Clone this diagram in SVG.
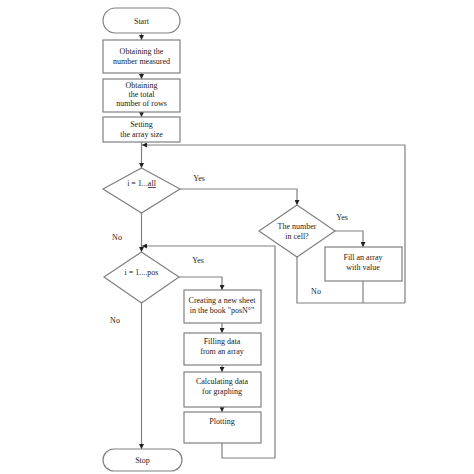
<svg xmlns="http://www.w3.org/2000/svg" width="474" height="474" viewBox="0 0 474 474">
<defs>
<marker id="ah" viewBox="0 0 6 6" refX="6" refY="3" markerWidth="5" markerHeight="5" orient="auto" markerUnits="userSpaceOnUse">
<path d="M0,0 L6,3 L0,6 Z" fill="#222"/>
</marker>
</defs>
<style>
.n{fill:#fff;stroke:#808080;stroke-width:1.2}
.c{fill:none;stroke:#808080;stroke-width:1.2}
text{font-family:"Liberation Serif","Times New Roman",serif;font-size:8px;fill:#222;text-anchor:middle}
.l{text-anchor:start}
</style>
<rect width="474" height="474" fill="#fff"/>
<g id="connectors">
<path class="c" d="M141.5,33 V40" marker-end="url(#ah)"/>
<path class="c" d="M141.5,73 V79" marker-end="url(#ah)"/>
<path class="c" d="M141.5,112 V117" marker-end="url(#ah)"/>
<path class="c" d="M141.5,142 V168" marker-end="url(#ah)"/>
<path class="c" d="M180,189 H297 V205" marker-end="url(#ah)"/>
<path class="c" d="M335,231 H363 V247" marker-end="url(#ah)"/>
<path class="c" d="M297,257 V303 H405"/>
<path class="c" d="M363,281 V303"/>
<path class="c" d="M405,303 V145 H142" marker-end="url(#ah)"/>
<path class="c" d="M141.5,213 V252" marker-end="url(#ah)"/>
<path class="c" d="M179,277 H222 V290" marker-end="url(#ah)"/>
<path class="c" d="M222,323 V333" marker-end="url(#ah)"/>
<path class="c" d="M222,365 V372" marker-end="url(#ah)"/>
<path class="c" d="M222,407 V412" marker-end="url(#ah)"/>
<path class="c" d="M222,443 V458 H275 V246 H142" marker-end="url(#ah)"/>
<path class="c" d="M141.5,303 V449" marker-end="url(#ah)"/>
</g>
<g id="start"><rect class="n" x="103" y="8" width="77" height="25" rx="12.5"/><text x="141.5" y="23.5">Start</text></g>
<g id="obtain-measured"><rect class="n" x="103" y="40" width="77" height="33"/><text x="141.5" y="53.5">Obtaining the</text><text x="141.5" y="63.5">number measured</text></g>
<g id="obtain-rows"><rect class="n" x="103" y="79" width="77" height="33"/><text x="141.5" y="88">Obtaining</text><text x="141.5" y="97">the total</text><text x="141.5" y="106">number of rows</text></g>
<g id="set-size"><rect class="n" x="103" y="117" width="77" height="25"/><text x="141.5" y="127">Setting</text><text x="141.5" y="137">the array size</text></g>
<g id="loop-all"><polygon class="n" points="141.5,168 180,189 141.5,213 103,189"/><text x="141.5" y="186">i = 1...<tspan text-decoration="underline">all</tspan></text></g>
<g id="number-in-cell"><polygon class="n" points="297,205 335,231 297,257 259,231"/><text x="297" y="229">The number</text><text x="297" y="239">in cell?</text></g>
<g id="fill-array"><rect class="n" x="325" y="247" width="77" height="34"/><text x="363" y="260">Fill an array</text><text x="363" y="270">with value</text></g>
<g id="loop-pos"><polygon class="n" points="141.5,252 179,277 141.5,303 104,277"/><text x="141.5" y="275">i = 1....pos</text></g>
<g id="create-sheet"><rect class="n" x="184" y="290" width="77" height="33"/><text x="222" y="303">Creating a new sheet</text><text x="222" y="313">in the book "posN°"</text></g>
<g id="fill-data"><rect class="n" x="184" y="333" width="77" height="32"/><text x="222" y="344">Filling data</text><text x="222" y="354">from an array</text></g>
<g id="calc-data"><rect class="n" x="184" y="372" width="77" height="35"/><text x="222" y="384">Calculating data</text><text x="222" y="394">for graphing</text></g>
<g id="plotting"><rect class="n" x="184" y="412" width="77" height="31"/><text x="222" y="424">Plotting</text></g>
<g id="stop"><rect class="n" x="103" y="449" width="79" height="22" rx="11"/><text x="142.5" y="462.5">Stop</text></g>
<g id="labels">
<text x="199" y="181">Yes</text>
<text x="342" y="220">Yes</text>
<text x="316" y="294">No</text>
<text x="117" y="240">No</text>
<text x="198" y="263">Yes</text>
<text x="115" y="323">No</text>
</g>
</svg>
